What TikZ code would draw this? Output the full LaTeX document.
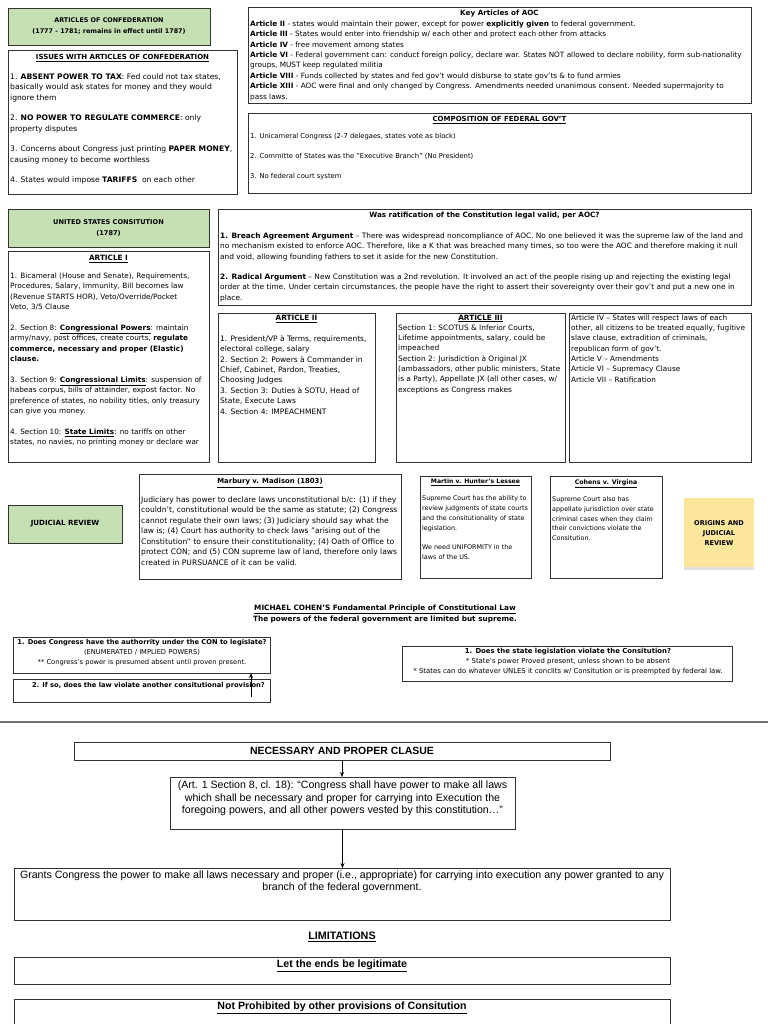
\documentclass[tikz,border=0pt]{standalone}
\usepackage{fontspec}
\setmainfont{DejaVu Sans}
\newfontfamily\lib{Liberation Sans}
\usetikzlibrary{arrows.meta,shadows}
\definecolor{jgreen}{HTML}{C6E0B4}
\definecolor{sticky}{HTML}{FCE69C}
\definecolor{bord}{HTML}{333333}
\newcommand\fs[2]{\fontsize{#1}{#2}\selectfont}
\begin{document}
\begin{tikzpicture}[x=1pt,y=-1pt,
 frame/.style={draw=bord, line width=0.9pt, anchor=north west, inner sep=0pt, outer sep=0pt},
 gbox/.style={frame, fill=jgreen},
 txt/.style={anchor=north west, inner sep=0pt, align=left},
 ctxt/.style={anchor=north, inner sep=0pt, align=center},
 arr/.style={-{Stealth[length=5pt,width=4pt]}, line width=0.7pt}]
\useasboundingbox[fill=white] (0,0) rectangle (768,1024);

% ---------- Articles of Confederation ----------
\node[gbox, minimum width=202pt, minimum height=37pt] (aoc) at (8,8) {};
\node[font=\bfseries\fs{6.4}{11}, align=center, inner sep=0pt] (aoct) at (aoc.center) {ARTICLES OF CONFEDERATION\\(1777 - 1781; remains in effect until 1787)};

\node[frame, minimum width=229pt, minimum height=144pt] (iss) at (8,50) {};
\node[ctxt, font=\bfseries\fs{7}{8}] (isst) at (122.5,54.5) {\underline{ISSUES WITH ARTICLES OF CONFEDERATION}};
\node[txt, font=\fs{7.6}{10.5}] (issb) at (10,73.5) {1. \textbf{ABSENT POWER TO TAX}: Fed could not tax states,\\
basically would ask states for money and they would\\
ignore them\\[10pt]
2. \textbf{NO POWER TO REGULATE COMMERCE}: only\\
property disputes\\[10pt]
3. Concerns about Congress just printing \textbf{PAPER MONEY},\\
causing money to become worthless\\[10pt]
4. States would impose \textbf{TARIFFS}\ \ on each other};

\node[frame, minimum width=503pt, minimum height=96pt] (key) at (248,7) {};
\node[ctxt, font=\bfseries\fs{7.2}{8}] (keyt) at (499.5,10) {Key Articles of AOC};
\node[txt, font=\fs{7.3}{10.4}] (keyb) at (250,20.5) {\textbf{Article II} - states would maintain their power, except for power \textbf{explicitly given} to federal government.\\
\textbf{Article III} - States would enter into friendship w/ each other and protect each other from attacks\\
\textbf{Article IV} - free movement among states\\
\textbf{Article VI} - Federal government can: conduct foreign policy, declare war. States NOT allowed to declare nobility, form sub-nationality\\
groups, MUST keep regulated militia\\
\textbf{Article VIII} - Funds collected by states and fed gov't would disburse to state gov'ts \& to fund armies\\
\textbf{Article XIII} - AOC were final and only changed by Congress. Amendments needed unanimous consent. Needed supermajority to\\
pass laws.};

\node[frame, minimum width=503pt, minimum height=80pt] (comp) at (248,113) {};
\node[ctxt, font=\bfseries\fs{7}{8}] (compt) at (499.5,116) {\underline{COMPOSITION OF FEDERAL GOV'T}};
\node[txt, font=\fs{6.8}{20}] (compb) at (250,133.5) {1. Unicameral Congress (2-7 delegaes, states vote as block)\\
2. Committe of States was the "Executive Branch" (No President)\\
3. No federal court system};

% ---------- Constitution ----------
\node[gbox, minimum width=201pt, minimum height=38pt] (usc) at (8,209) {};
\node[font=\bfseries\fs{6.6}{11}, align=center, inner sep=0pt] (usct) at (usc.center) {UNITED STATES CONSITUTION\\(1787)};

\node[frame, minimum width=201pt, minimum height=211pt] (art1) at (8,251) {};
\node[ctxt, font=\bfseries\fs{7.3}{8}] (art1t) at (108.5,255) {\underline{ARTICLE I}};
\node[txt, font=\fs{7.3}{10.5}] (art1b) at (10,272.5) {1. Bicameral (House and Senate), Requirements,\\
Procedures, Salary, Immunity, Bill becomes law\\
(Revenue STARTS HOR), Veto/Override/Pocket\\
Veto, 3/5 Clause\\[10pt]
2. Section 8: \textbf{\underline{Congressional Powers}}: maintain\\
army/navy, post offices, create courts, \textbf{regulate}\\
\textbf{commerce, necessary and proper (Elastic)}\\
\textbf{clause.}\\[10pt]
3. Section 9: \textbf{\underline{Congressional Limits}}: suspension of\\
habeas corpus, bills of attainder, expost factor. No\\
preference of states, no nobility titles, only treasury\\
can give you money.\\[10pt]
4. Section 10: \textbf{\underline{State Limits}}: no tariffs on other\\
states, no navies, no printing money or declare war};

\node[frame, minimum width=533pt, minimum height=96pt] (rat) at (218,209) {};
\node[ctxt, font=\bfseries\fs{7.2}{8}] (ratt) at (484.5,212) {Was ratification of the Constitution legal valid, per AOC?};
\node[txt, font=\fs{7.4}{10.5}] (ratb) at (220,232.5) {\textbf{1. Breach Agreement Argument} -- There was widespread noncompliance of AOC. No one believed it was the supreme law of the land and\\
no mechanism existed to enforce AOC. Therefore, like a K that was breached many times, so too were the AOC and therefore making it null\\
and void, allowing founding fathers to set it aside for the new Constitution.\\[9.5pt]
\textbf{2. Radical Argument} -- New Constitution was a 2nd revolution. It involved an act of the people rising up and rejecting the existing legal\\
order at the time. Under certain circumstances, the people have the right to assert their sovereignty over their gov't and put a new one in\\
place.};

\node[frame, minimum width=157pt, minimum height=149pt] (art2) at (218,313) {};
\node[ctxt, font=\bfseries\fs{7.3}{8}] (art2t) at (296.5,315) {\underline{ARTICLE II}};
\node[txt, font=\fs{7.5}{10.4}] (art2b) at (220,335) {1. President/VP à Terms, requirements,\\
electoral college, salary\\
2. Section 2: Powers à Commander in\\
Chief, Cabinet, Pardon, Treaties,\\
Choosing Judges\\
3. Section 3: Duties à SOTU, Head of\\
State, Execute Laws\\
4. Section 4: IMPEACHMENT};

\node[frame, minimum width=169pt, minimum height=149pt] (art3) at (396,313) {};
\node[ctxt, font=\bfseries\fs{7.3}{8}] (art3t) at (480.5,314.5) {\underline{ARTICLE III}};
\node[txt, font=\fs{7.4}{10.3}] (art3b) at (398,324.5) {Section 1: SCOTUS \& Inferior Courts,\\
Lifetime appointments, salary, could be\\
impeached\\
Section 2: Jurisdiction à Original JX\\
(ambassadors, other public ministers, State\\
is a Party), Appellate JX (all other cases, w/\\
exceptions as Congress makes};

\node[frame, minimum width=182pt, minimum height=149pt] (art4) at (569,313) {};
\node[txt, font=\fs{7.3}{10.3}] (art4b) at (571,314.5) {Article IV -- States will respect laws of each\\
other, all citizens to be treated equally, fugitive\\
slave clause, extradition of criminals,\\
republican form of gov't.\\
Article V -- Amendments\\
Article VI -- Supremacy Clause\\
Article VII -- Ratification};

% ---------- Judicial review ----------
\node[gbox, minimum width=114pt, minimum height=38pt] (jr) at (8,505) {};
\node[font=\bfseries\fs{7.1}{8}, inner sep=0pt] (jrt) at (jr.center) {JUDICIAL REVIEW};

\node[frame, minimum width=262pt, minimum height=105pt] (mar) at (139,474) {};
\node[ctxt, font=\bfseries\fs{6.9}{8}] (mart) at (270,478.5) {\underline{Marbury v. Madison (1803)}};
\node[txt, font=\fs{7.6}{10.5}] (marb) at (141,496.5) {Judiciary has power to declare laws unconstitutional b/c: (1) if they\\
couldn't, constitutional would be the same as statute; (2) Congress\\
cannot regulate their own laws; (3) Judiciary should say what the\\
law is; (4) Court has authority to check laws "arising out of the\\
Constitution" to ensure their constitutionality; (4) Oath of Office to\\
protect CON; and (5) CON supreme law of land, therefore only laws\\
created in PURSUANCE of it can be valid.};

\node[frame, minimum width=111pt, minimum height=102pt] (mhl) at (420,476) {};
\node[ctxt, font=\bfseries\fs{6.1}{8}] (mhlt) at (475.5,479) {\underline{Martin v. Hunter's Lessee}};
\node[txt, font=\fs{6.4}{10}] (mhlb) at (422,495.5) {Supreme Court has the ability to\\
review judgments of state courts\\
and the consitutionality of state\\
legislation.\\[9pt]
We need UNIFORMITY in the\\
laws of the US.};

\node[frame, minimum width=112pt, minimum height=102pt] (coh) at (550,476) {};
\node[ctxt, font=\bfseries\fs{6.3}{8}] (coht) at (606,479.5) {\underline{Cohens v. Virgina}};
\node[txt, font=\fs{6.4}{9.8}] (cohb) at (552,496.5) {Supreme Court also has\\
appellate jurisdiction over state\\
criminal cases when they claim\\
their convictions violate the\\
Consitution.};

\node[anchor=north west, fill=sticky, minimum width=70pt, minimum height=69pt, inner sep=0pt, outer sep=0pt,
  drop shadow={shadow xshift=0pt, shadow yshift=-3pt, opacity=0.25}] (orig) at (684,498) {};
\node[font=\bfseries\fs{6.6}{10}, align=center, inner sep=0pt] (origt) at ([yshift=-1pt]orig.center) {ORIGINS AND\\JUDICIAL\\REVIEW};

% ---------- Cohen principle ----------
\node[ctxt, font=\bfseries\fs{7.3}{11}] (mc) at (385,605) {\underline{MICHAEL COHEN'S Fundamental Principle of Constitutional Law}\\
The powers of the federal government are limited but supreme.};

\node[frame, minimum width=257pt, minimum height=36pt] (q1) at (13,637) {};
\node[ctxt, font=\fs{6.7}{10}] (q1t) at (142,639.5) {\textbf{1. Does Congress have the authorrity under the CON to legislate?}\\
(ENUMERATED / IMPLIED POWERS)\\
** Congress's power is presumed absent until proven present.};
\node[frame, minimum width=257pt, minimum height=23pt] (q2) at (13,679) {};
\node[ctxt, font=\bfseries\fs{6.7}{8}] (q2t) at (148.5,682.5) {2. If so, does the law violate another consitutional provision?};
\coordinate (a2) at (251,697);
\draw[arr] (a2) -- (a2 |- q1.south);

\node[frame, minimum width=330pt, minimum height=35pt] (sq) at (402,646) {};
\node[ctxt, font=\fs{6.9}{10}] (sqt) at (568,648.5) {\textbf{1. Does the state legislation violate the Consitution?}\\
* State's power Proved present, unless shown to be absent\\
* States can do whatever UNLES it conclits w/ Consitution or is preempted by federal law.};

% ---------- separator ----------
\draw[line width=1.8pt, black!55] (0,722) -- (768,722);

% ---------- Necessary and proper ----------
\node[frame, minimum width=536pt, minimum height=18pt] (np) at (74,742) {};
\node[font=\lib\bfseries\fs{10.5}{11}, inner sep=0pt] (npt) at (np.center) {NECESSARY AND PROPER CLASUE};

\node[frame, minimum width=345pt, minimum height=52pt] (quote) at (170,777) {};
\node[ctxt, font=\lib\fs{10.6}{12.7}] (quotet) at (342.5,780.5) {(Art. 1 Section 8, cl. 18): “Congress shall have power to make all laws\\
which shall be necessary and proper for carrying into Execution the\\
foregoing powers, and all other powers vested by this constitution…”};

\node[frame, minimum width=656pt, minimum height=52pt] (gr) at (14,868) {};
\node[ctxt, font=\lib\fs{10.6}{12.5}] (grt) at (342,870.5) {Grants Congress the power to make all laws necessary and proper (i.e., appropriate) for carrying into execution any power granted to any\\
branch of the federal government.};

\draw[arr] (np.south) -- (np.south |- quote.north);
\draw[arr] (quote.south) -- (quote.south |- gr.north);

\node[font=\lib\bfseries\fs{10.8}{11}, inner sep=0pt] (lim) at (342,937) {\underline{LIMITATIONS}};

\node[frame, minimum width=656pt, minimum height=27pt] (ends) at (14,957) {};
\node[ctxt, font=\lib\bfseries\fs{10.6}{11}] (endst) at (342,959.5) {\underline{Let the ends be legitimate}};

\node[frame, minimum width=656pt, minimum height=40pt] (np2) at (14,999) {};
\node[ctxt, font=\lib\bfseries\fs{10.6}{11}] (np2t) at (342,1001.5) {\underline{Not Prohibited by other provisions of Consitution}};
\end{tikzpicture}
\end{document}
